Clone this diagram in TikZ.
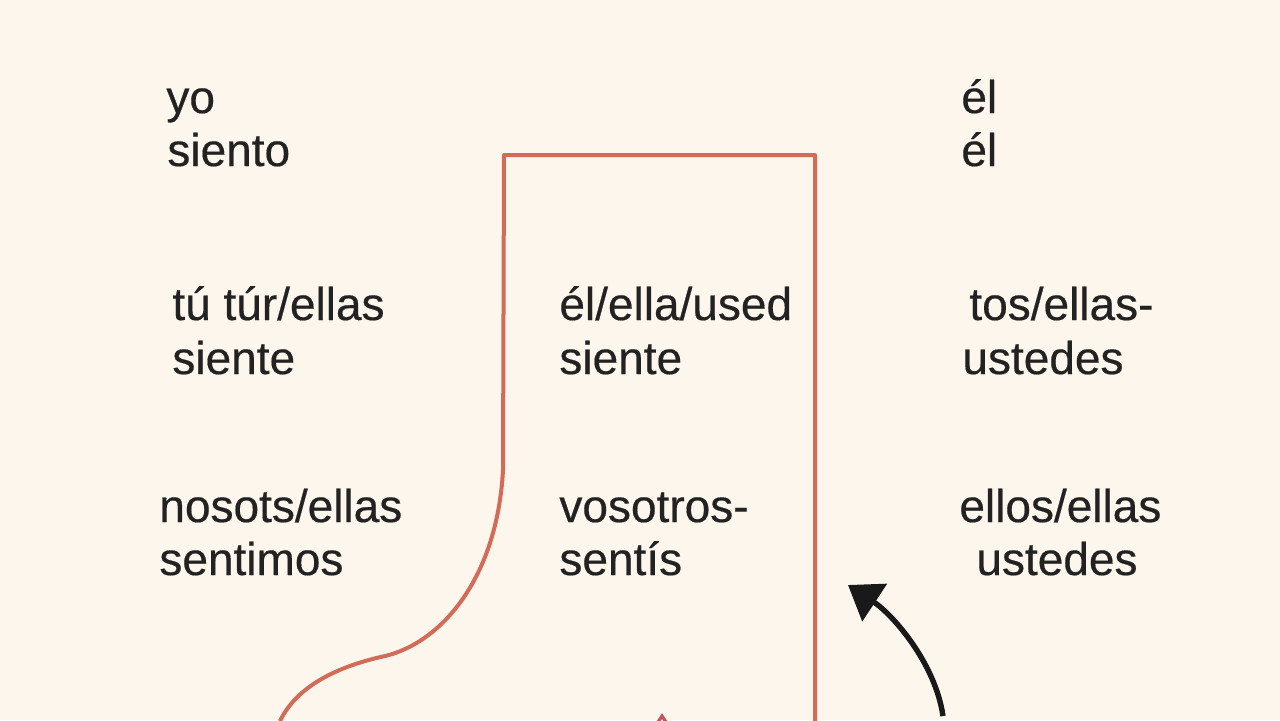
\documentclass[tikz,border=0pt]{standalone}
\usepackage{fontspec}
\setmainfont{Liberation Sans}[FakeBold=0.4]
\usetikzlibrary{arrows.meta}
\definecolor{bgc}{HTML}{FDF6EC}
\definecolor{bootc}{HTML}{D26B57}
\definecolor{txtc}{HTML}{222222}
\begin{document}
\begin{tikzpicture}[x=0.5pt,y=-0.5pt,
  lbl/.style={anchor=base west,inner sep=0pt,text=txtc,font=\fontsize{23pt}{27pt}\selectfont},
  bootline/.style={draw=bootc,line width=2pt,line join=round},
  pointer/.style={draw=black!90,line width=2.7pt,-{Triangle[length=16pt,width=22pt]}}]
\fill[bgc] (0,0) rectangle (1280,720);
\useasboundingbox (0,0) rectangle (1280,720);
% texts
\node[lbl] (yo) at (166,113) {yo};
\node[lbl] (yo2) at (167,166) {siento};
\node[lbl] (el1) at (961,113) {él};
\node[lbl] (el2) at (961,166) {él};
\node[lbl] (tu) at (172,320) {tú túr/ellas};
\node[lbl] (tu2) at (172,374) {siente};
\node[lbl] (ella) at (559,320) {él/ella/used};
\node[lbl] (ella2) at (559,374) {siente};
\node[lbl] (tos) at (969,320) {tos/ellas-};
\node[lbl] (tos2) at (962,374) {ustedes};
\node[lbl] (nos) at (159,522) {nosots/ellas};
\node[lbl] (nos2) at (159,575) {sentimos};
\node[lbl] (vos) at (559,522) {vosotros-};
\node[lbl] (vos2) at (559,575) {sentís};
\node[lbl] (ellos) at (959,522) {ellos/ellas};
\node[lbl] (ellos2) at (976,575) {ustedes};
% boot outline
\coordinate (toe) at (280,721);
\coordinate (instep) at (385,656);
\coordinate (heel) at (503,470);
\coordinate (tl) at (504,155);
\coordinate (tr) at (815,155);
\coordinate (br) at (815,721);
\path[bootline] (toe) .. controls (295,690) and (330,668) .. (instep)
  .. controls (440,643) and (497,580) .. (heel) -- (tl) -- (tr) -- (br);
% small mark at bottom
\coordinate (m1) at (658,722);
\coordinate (m2) at (662,716);
\coordinate (m3) at (666,722);
\draw[draw=bootc!80!violet,line width=1.6pt] (m1) -- (m2) -- (m3);
% arrow
\coordinate (as) at (943,716);
\coordinate (ae) at (848,585);
\draw[pointer] (as) .. controls (935,662) and (892,614) .. (ae);
\end{tikzpicture}
\end{document}
